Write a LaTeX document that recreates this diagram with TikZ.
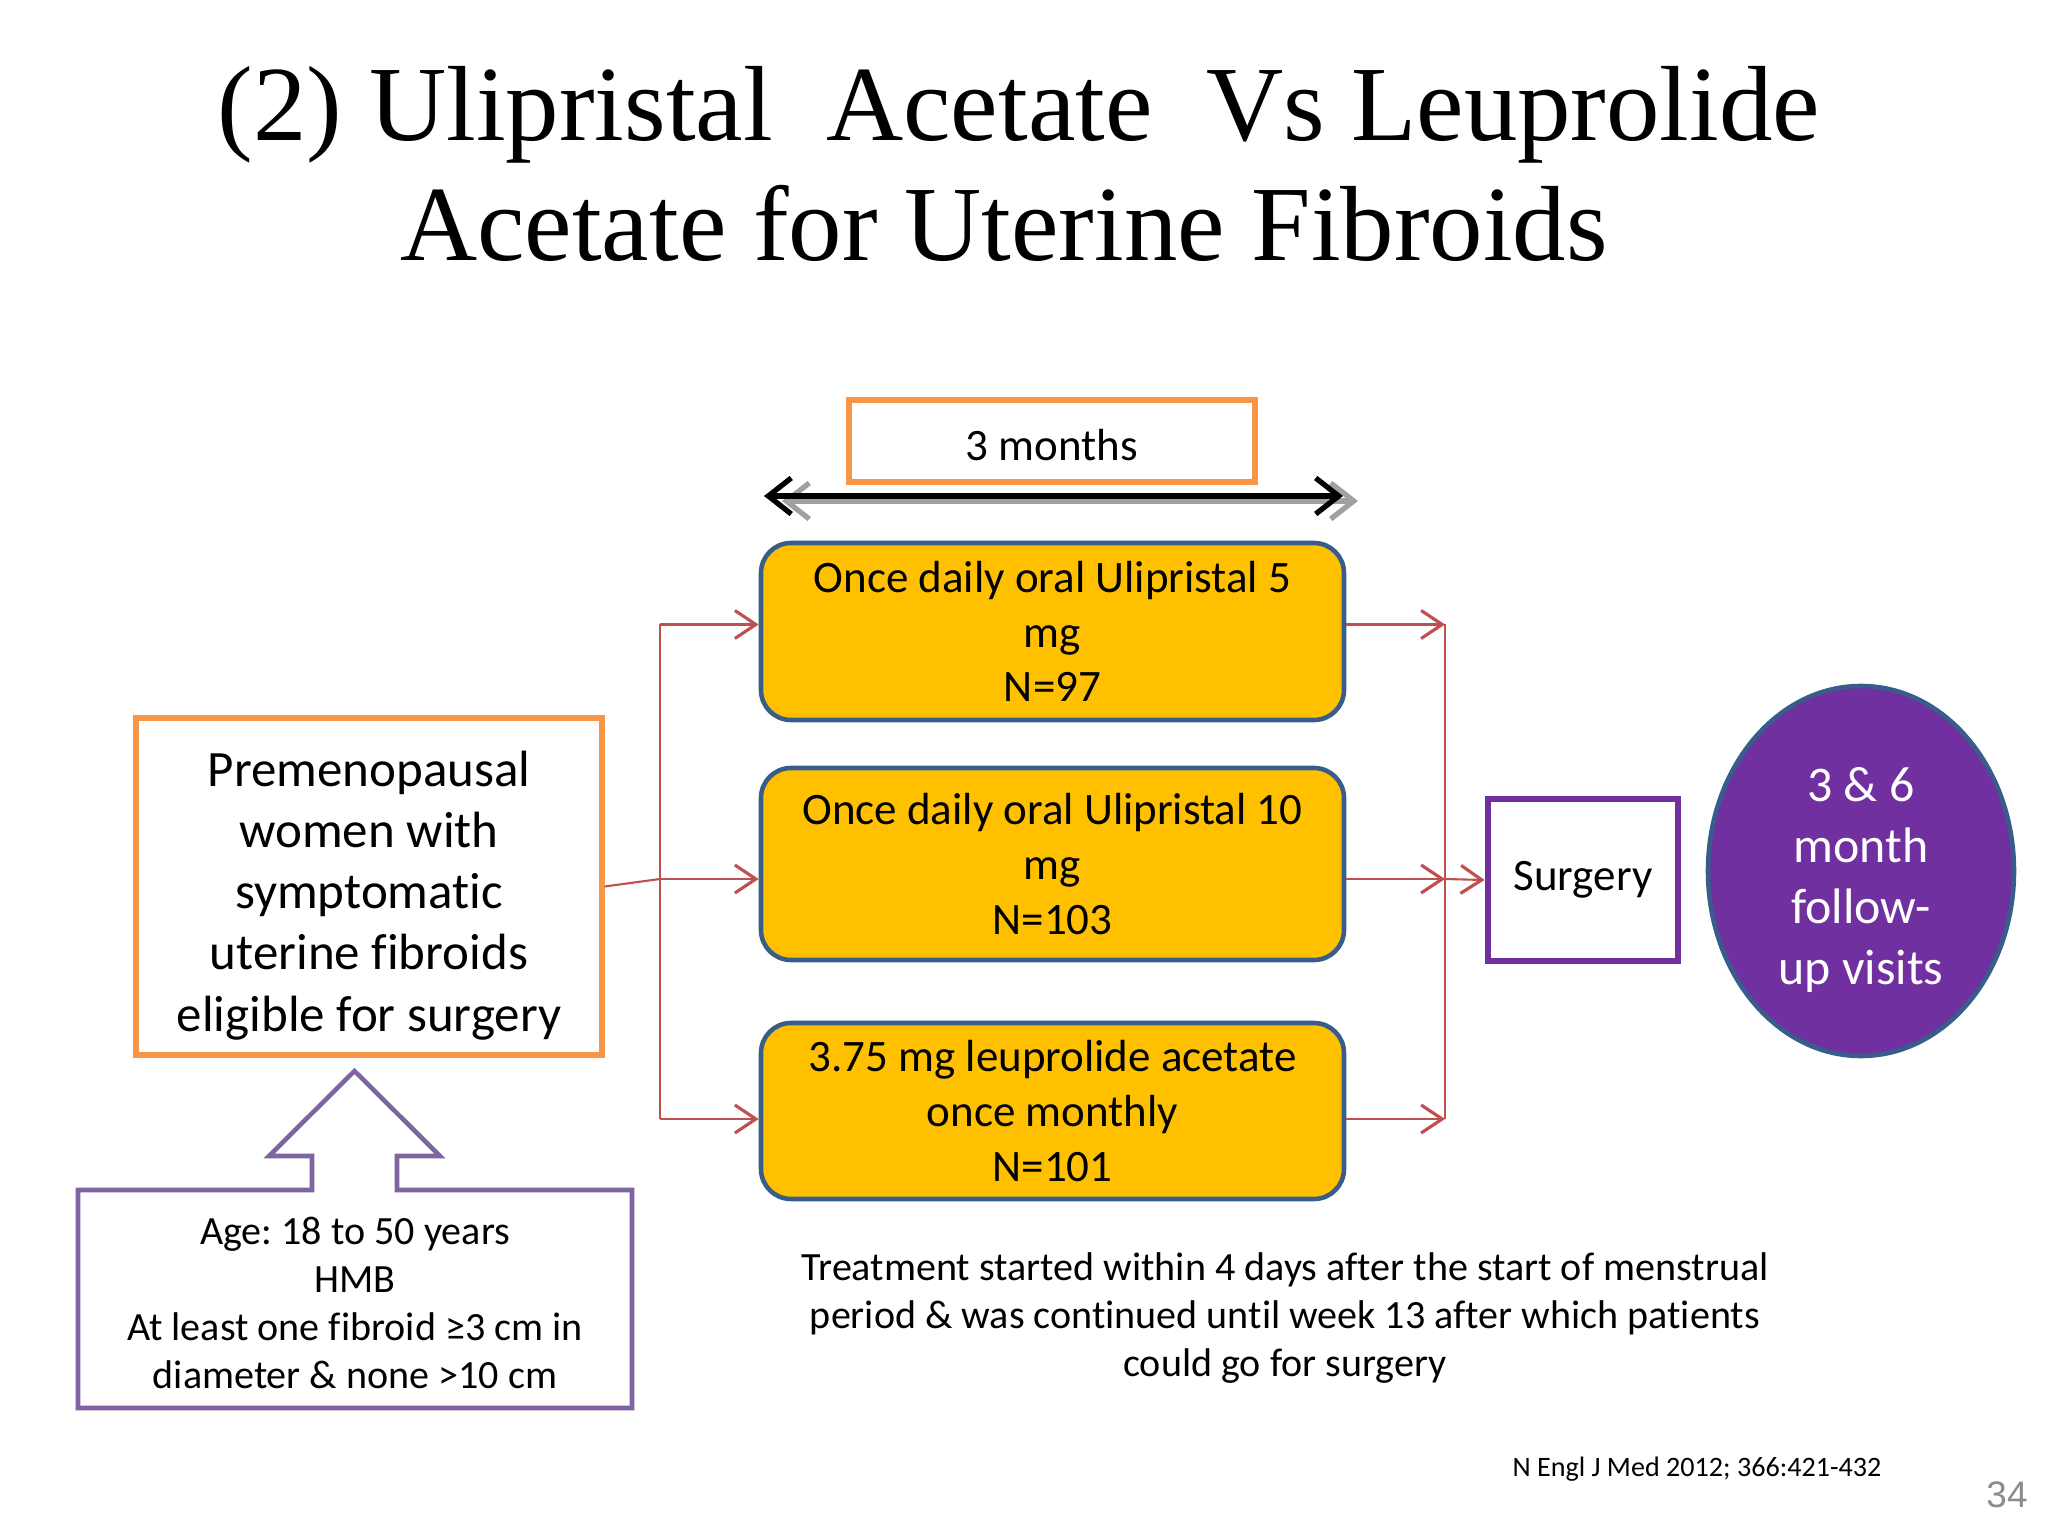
\documentclass[tikz,border=0pt]{standalone}
\usepackage{fontspec}
\setmainfont{Carlito}[Ligatures=NoCommon]
\newfontfamily\titlefont{Liberation Serif}
\newfontfamily\numfont{Liberation Sans}
\usetikzlibrary{arrows.meta,positioning,shapes.geometric,calc}
\definecolor{boxorange}{HTML}{F79646}
\definecolor{armgold}{HTML}{FFC000}
\definecolor{armblue}{HTML}{385D8A}
\definecolor{linkred}{HTML}{C0504D}
\definecolor{surgpurple}{HTML}{7030A0}
\definecolor{critpurple}{HTML}{8064A2}
\definecolor{spangray}{HTML}{A0A0A0}
\definecolor{pagegray}{HTML}{8C8C8C}
\newcommand{\ttlsize}{\titlefont\fontsize{30.4}{34}\selectfont}
\newcommand{\armsize}{\fontsize{12.8}{15.6}\selectfont}
\newcommand{\popsize}{\fontsize{14.5}{17.4}\selectfont}
\newcommand{\ovalsize}{\fontsize{14.2}{17.4}\selectfont}
\newcommand{\critsize}{\fontsize{11.4}{13.7}\selectfont}
\newcommand{\citesize}{\fontsize{8}{9.6}\selectfont}
\newcommand{\pgsize}{\numfont\fontsize{10.5}{12}\selectfont}
\frenchspacing

\begin{document}
\begin{tikzpicture}[>={Straight Barb[length=2.1mm,width=2.8mm,line width=0.9pt]},
  arm/.style={draw=armblue, line width=1.3pt, fill=armgold, rounded corners=3mm,
    minimum width=5.83cm, inner sep=0pt, align=center, font=\armsize},
  link/.style={linkred, line width=0.6pt},
  span/.style={line width=1.5pt, >={Straight Barb[length=2.3mm,width=3.6mm]}, <->}]
  \useasboundingbox (0,0) rectangle (20.48,-15.36);
  % Titel
  \node[anchor=base, font=\ttlsize] (title1) at (10.19,-1.41) {(2) Ulipristal\ \ Acetate\ \ Vs Leuprolide};
  \node[anchor=base, font=\ttlsize] (title2) at (10.04,-2.61) {Acetate for Uterine Fibroids};
  % Dauer
  \node[draw=boxorange, line width=1.5pt, minimum width=4.06cm, minimum height=0.82cm, font=\armsize] (span) at (10.52,-4.41) {};
  \node[font=\armsize] (spantxt) at ([yshift=-0.04cm]span.center) {3 months};
  \coordinate (spanL) at (7.64,-4.96);
  \coordinate (spanR) at (13.43,-4.96);
  \draw[span, spangray] ([shift={(0.18,-0.05)}]spanL) -- ([shift={(0.15,-0.05)}]spanR);
  \draw[span] (spanL) -- (spanR);
  % Arme
  \node[arm, minimum height=1.77cm] (arm1) at (10.525,-6.315) {Once daily oral Ulipristal 5\\mg\\N=97};
  \node[arm, minimum height=1.92cm] (arm2) at (10.525,-8.64) {Once daily oral Ulipristal 10\\mg\\N=103};
  \node[arm, minimum height=1.76cm] (arm3) at (10.525,-11.11) {3.75 mg leuprolide acetate\\once monthly\\N=101};
  % Population
  \node[draw=boxorange, line width=1.5pt, minimum width=4.66cm, minimum height=3.37cm] (pop) at (3.69,-8.865) {};
  \node[align=center, font=\popsize] (poptxt) at ([yshift=-0.09cm]pop.center) {Premenopausal\\women with\\symptomatic\\uterine fibroids\\eligible for surgery};
  % Einschlusskriterien mit Pfeil
  \draw[critpurple, line width=1.3pt, fill=white] (0.78,-14.08) -- (0.78,-11.90) -- (3.12,-11.90) -- (3.12,-11.56) -- (2.69,-11.56) -- (3.545,-10.71) -- (4.40,-11.56) -- (3.97,-11.56) -- (3.97,-11.90) -- (6.32,-11.90) -- (6.32,-14.08) -- cycle;
  \node[align=center, font=\critsize] (crit) at (3.55,-13.03) {Age: 18 to 50 years\\HMB\\At least one fibroid ≥3 cm in\\diameter \& none >10 cm};
  % Chirurgie und Nachsorge
  \node[draw=surgpurple, line width=1.9pt, minimum width=1.90cm, minimum height=1.62cm, font=\armsize] (surg) at (15.83,-8.80) {Surgery};
  \node[ellipse, draw=armblue, line width=1.3pt, fill=surgpurple, minimum width=3.06cm, minimum height=3.70cm, inner sep=0pt] (visits) at (18.61,-8.71) {};
  \node[align=center, text=white, font=\ovalsize] (visitstxt) at ([yshift=-0.09cm]visits.center) {3 \& 6\\month\\follow-\\up visits};
  % Verbindungen
  \coordinate (split) at (6.60,-8.79);
  \coordinate (join) at (14.45,-8.79);
  \coordinate (row1) at ([yshift=0.07cm]arm1.west);
  \coordinate (row3) at ([yshift=-0.08cm]arm3.west);
  \draw[link] (pop.east) -- (split);
  \draw[link] (split |- row1) -- (split |- row3);
  \draw[link,->] (split |- row1) -- (row1);
  \draw[link,->] (split |- row3) -- (row3);
  \draw[link,->] (split) -- (split -| arm2.west);
  \draw[link,->] (row1 -| arm1.east) -- (join |- row1);
  \draw[link,->] (row3 -| arm3.east) -- (join |- row3);
  \draw[link,->] (arm2.east |- join) -- (join);
  \draw[link] (join |- row1) -- (join |- row3);
  \draw[link,->] (join) -- (surg.west);
  % Hinweise
  \node[align=center, font=\critsize] (note) at (12.85,-13.18) {Treatment started within 4 days after the start of menstrual\\period \& was continued until week 13 after which patients\\could go for surgery};
  \node[font=\citesize] (cite) at (16.97,-14.69) {N Engl J Med 2012; 366:421-432};
  \node[text=pagegray, font=\pgsize] (page) at (20.07,-14.95) {34};
\end{tikzpicture}
\end{document}
